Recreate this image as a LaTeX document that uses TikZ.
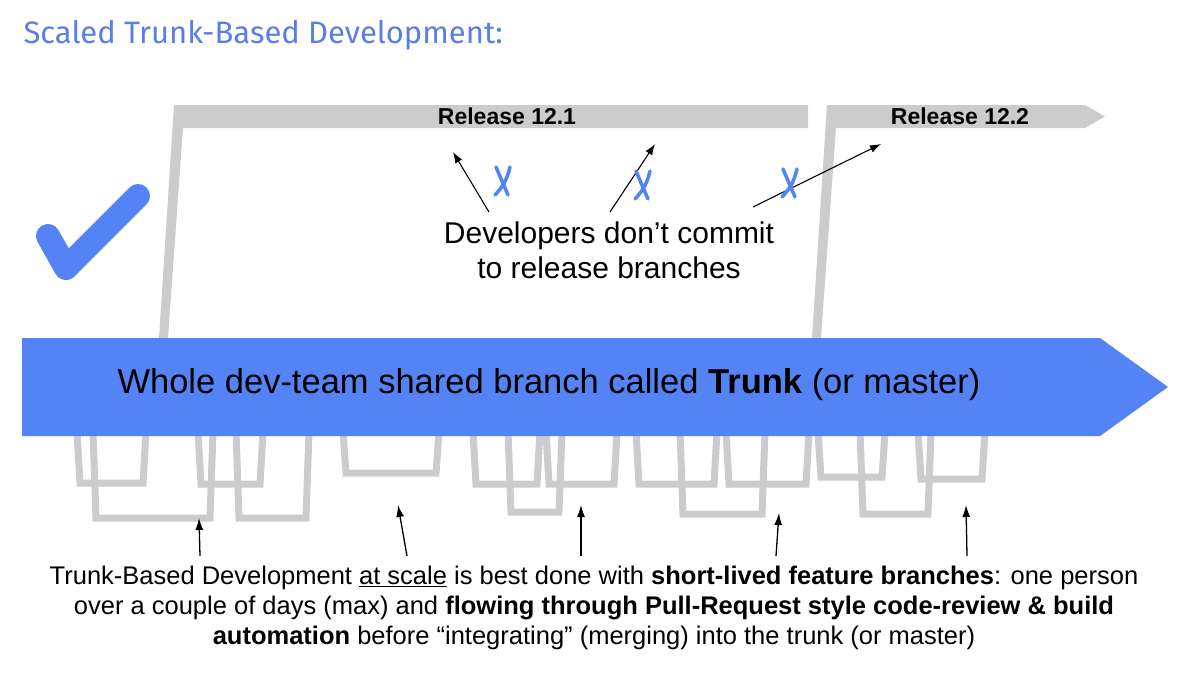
\documentclass[tikz,border=0pt]{standalone}
\usepackage{fontspec}
\setmainfont{Liberation Sans}
\newfontfamily\titlefont{Fira Sans}
\usetikzlibrary{arrows.meta}
\definecolor{trunkblue}{HTML}{5383F4}
\definecolor{titleblue}{HTML}{5A7EE8}
\definecolor{brgray}{HTML}{CCCCCC}
\tikzset{
  fb/.style={draw=brgray,line width=7pt,line join=miter},
  rel/.style={fill=brgray},
  dev/.style={-{Latex[length=11pt,width=8pt]},line width=1.1pt},
  up/.style={-{Latex[length=12pt,width=8pt]},line width=1.3pt},
  xm/.style={draw=trunkblue,line width=3.5pt,line cap=round}
}
\newcommand{\fbr}[3]{\draw[fb] (#1,432) -- (#1+3,#3) -- (#2-3,#3) -- (#2,432);}
\newcommand{\xmk}[3]{\coordinate (#3) at (#1,#2);
  \draw[xm] ([shift={(-6,-14)}]#3) -- ([shift={(6,14)}]#3);
  \draw[xm] ([shift={(8,-14)}]#3) to[bend left=15] ([shift={(-7,14)}]#3);}
\begin{document}
\begin{tikzpicture}[x=1pt,y=-1pt]
\useasboundingbox (0,0) rectangle (1200,685);
\node[anchor=west,text=titleblue,font=\titlefont\fontsize{31}{34}\selectfont] (title) at (20,35) {Scaled Trunk-Based Development:};
% release branches
\path[rel] (159,338) -- (174,105) -- (808,105) -- (808,128) -- (183,128) -- (168,338) -- cycle;
\path[rel] (812,338) -- (827,105) -- (1085,105) -- (1105,116.5) -- (1085,128) -- (836,128) -- (821,338) -- cycle;
\node[font=\bfseries\fontsize{23}{24}\selectfont] (r1) at (507,116) {Release 12.1};
\node[font=\bfseries\fontsize{23}{24}\selectfont] (r2) at (960,116) {Release 12.2};
% feature branches
\fbr{77}{146}{483}
\fbr{93}{213}{518}
\fbr{198}{263}{484}
\fbr{236}{309}{518}
\fbr{343}{439}{473}
\fbr{473}{540}{484}
\fbr{508}{562}{512}
\fbr{546}{617}{484}
\fbr{636}{717}{484}
\fbr{680}{765}{514}
\fbr{726}{809}{484}
\fbr{818}{885}{477}
\fbr{860}{931}{514}
\fbr{918}{985}{479}
% trunk
\path[fill=trunkblue] (22,338) -- (1100,338) -- (1168,387) -- (1100,436) -- (22,436) -- cycle;
\node[font=\fontsize{34.5}{36}\selectfont] (trunk) at (549,385) {Whole dev-team shared branch called \textbf{Trunk} (or master)};
% check mark
\draw[trunkblue,line width=24pt,line cap=round,line join=round] (48,236) -- (66,268) -- (138,196);
% developers
\node[font=\fontsize{30}{35}\selectfont,align=center] (devs) at (609,250) {Developers don’t commit\\to release branches};
\coordinate (a1s) at (489,212); \coordinate (a1e) at (453,152);
\coordinate (a2s) at (610,212); \coordinate (a2e) at (655,144);
\coordinate (a3s) at (753,207); \coordinate (a3e) at (881,144);
\draw[dev] (a1s) -- (a1e);
\draw[dev] (a2s) -- (a2e);
\draw[dev] (a3s) -- (a3e);
\xmk{502}{181}{x1}
\xmk{642}{185}{x2}
\xmk{789}{183}{x3}
% bottom text
\node[font=\fontsize{25.5}{30}\selectfont,align=center] (desc) at (594,608) {Trunk-Based Development \underline{at scale} is best done with \textbf{short-lived feature branches}: one person\\over a couple of days (max) and \textbf{flowing through Pull-Request style code-review \& build}\\\textbf{automation} before “integrating” (merging) into the trunk (or master)};
\coordinate (u1s) at (200,556); \coordinate (u1e) at (199,518);
\coordinate (u2s) at (407,556); \coordinate (u2e) at (398,505);
\coordinate (u3s) at (581,556); \coordinate (u3e) at (581,505);
\coordinate (u4s) at (776,556); \coordinate (u4e) at (779,513);
\coordinate (u5s) at (967,556); \coordinate (u5e) at (966,505);
\foreach \i in {1,...,5} \draw[up] (u\i s) -- (u\i e);
\end{tikzpicture}
\end{document}
